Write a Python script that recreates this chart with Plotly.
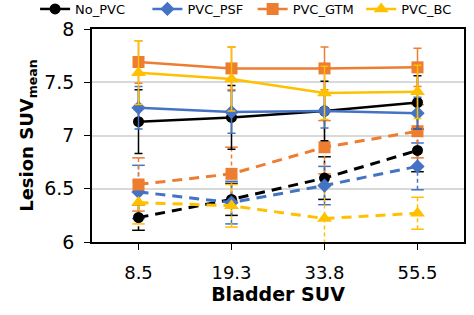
import plotly.graph_objects as go

categories = ["8.5", "19.3", "33.8", "55.5"]
series_names = ["No_PVC", "PVC_PSF", "PVC_GTM", "PVC_BC"]
colors = ["#000000", "#4472C4", "#ED7D31", "#FFC000"]
symbols = ["circle", "diamond", "square", "triangle-up"]
sizes = [11, 11, 12, 13]

# solid-line series (mean values) and their error bars
solid_vals = [
    [7.13, 7.17, 7.23, 7.31],
    [7.26, 7.22, 7.23, 7.21],
    [7.69, 7.63, 7.63, 7.64],
    [7.59, 7.53, 7.40, 7.41],
]
solid_err = [
    [0.30, 0.30, 0.28, 0.25],
    [0.20, 0.20, 0.16, 0.15],
    [0.20, 0.20, 0.20, 0.18],
    [0.30, 0.30, 0.25, 0.25],
]
# dashed-line series and their error bars
dashed_vals = [
    [6.23, 6.40, 6.60, 6.86],
    [6.47, 6.37, 6.53, 6.71],
    [6.54, 6.64, 6.89, 7.04],
    [6.37, 6.34, 6.22, 6.27],
]
dashed_err = [
    [0.12, 0.15, 0.20, 0.20],
    [0.25, 0.20, 0.18, 0.22],
    [0.25, 0.25, 0.25, 0.25],
    [0.20, 0.20, 0.30, 0.15],
]

fig = go.Figure()
font = "DejaVu Sans, sans-serif"
legend_ids = ["legend", "legend2", "legend3", "legend4"]
legend_x = [0.074, 0.311, 0.533, 0.762]

# dashed error bars (drawn first, below everything)
for i, name in enumerate(series_names):
    xs, ys, cap_x, cap_y = [], [], [], []
    for c, v, e in zip(categories, dashed_vals[i], dashed_err[i]):
        xs += [c, c, None]
        ys += [v - e, v + e, None]
        cap_x += [c, c]
        cap_y += [v - e, v + e]
    fig.add_trace(go.Scatter(x=xs, y=ys, mode="lines", showlegend=False,
                             line=dict(color=colors[i], width=1.5, dash="4px,3px"),
                             hoverinfo="skip"))
    fig.add_trace(go.Scatter(x=cap_x, y=cap_y, mode="markers", showlegend=False,
                             marker=dict(symbol="line-ew", size=9,
                                         line=dict(color=colors[i], width=1.5)),
                             hoverinfo="skip"))

for i, name in enumerate(series_names):
    fig.add_trace(go.Scatter(
        x=categories, y=dashed_vals[i], mode="lines+markers", showlegend=False,
        line=dict(color=colors[i], width=3, dash="10px,7px"),
        marker=dict(symbol=symbols[i], size=sizes[i], color=colors[i]),
    ))

for i, name in enumerate(series_names):
    fig.add_trace(go.Scatter(
        x=categories, y=solid_vals[i], mode="lines+markers", name=name,
        legend=legend_ids[i],
        line=dict(color=colors[i], width=2.5),
        marker=dict(symbol=symbols[i], size=sizes[i], color=colors[i]),
        error_y=dict(type="data", array=solid_err[i], visible=True,
                     color=colors[i], thickness=1.5, width=4),
    ))

legend_common = dict(orientation="h", xref="container", xanchor="left",
                     yref="container", y=1 - 9 / 315, yanchor="middle",
                     font=dict(size=13, family=font), itemwidth=30,
                     bgcolor="rgba(0,0,0,0)", borderwidth=0)
fig.update_layout(
    width=474, height=315,
    margin=dict(l=92, r=10, t=29, b=73, autoexpand=False),
    paper_bgcolor="white", plot_bgcolor="white",
    font=dict(family=font, color="black"),
    showlegend=True,
    **{lid: dict(legend_common, x=lx) for lid, lx in zip(legend_ids, legend_x)},
)
fig.update_xaxes(
    type="category", range=[-0.5, 3.5],
    showline=True, linecolor="black", linewidth=1.5, mirror=True,
    ticks="outside", ticklen=6, tickcolor="black",
    tickfont=dict(size=18, family=font), ticklabelstandoff=8,
    showgrid=False,
    title=dict(text="<b>Bladder SUV</b>", font=dict(size=19, family=font), standoff=2),
)
fig.update_yaxes(
    range=[6, 8], dtick=0.5,
    showline=True, linecolor="black", linewidth=1.5, mirror=True,
    ticks="outside", ticklen=6, tickcolor="black",
    tickfont=dict(size=19, family=font), ticklabelstandoff=6,
    showgrid=True, gridcolor="#D9D9D9", gridwidth=1.5,
    zeroline=False,
    title=dict(text="<b>Lesion SUV<sub>mean</sub></b>", font=dict(size=18, family=font), standoff=6),
)

fig.write_html("out.html")
